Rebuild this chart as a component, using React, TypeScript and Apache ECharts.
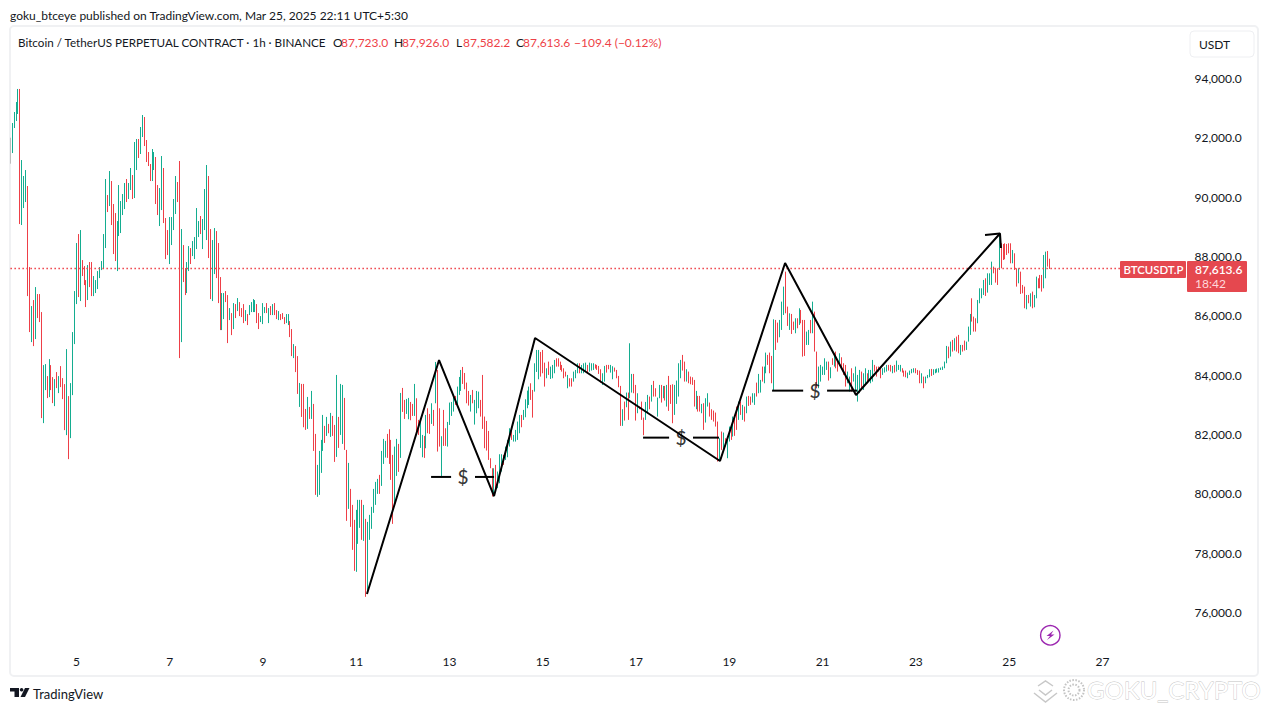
import React, { useEffect, useRef } from "react";
import * as echarts from "echarts";

const FONT = "Lato";
const INK = "#131722";
const TEAL = "#14ad90";
const RED = "#ee3f47";
const GRAY = "#bdbdbd";
const TAG = "#e5484f";

const dayTickLabels = ["5", "7", "9", "11", "13", "15", "17", "19", "21", "23", "25", "27"];
const priceTicks = [76000, 78000, 80000, 82000, 84000, 86000, 88000, 90000, 92000, 94000];
const lastPrice = 87613.6;

const highs = [
  92005,92500,92871,93208,93647,93647,91252,90713,90915,90376,
  87644,86329,86532,86970,86734,86734,86127,84340,84374,83969,
  84542,84340,83935,83868,84104,83969,84306,83901,83699,84879,
  83294,83733,85453,86835,88454,88757,88892,87880,87678,87206,
  87712,87813,87813,87341,87206,87509,87644,87847,88757,90612,
  90072,90881,90544,89769,89465,89195,90409,89870,90106,90477,
  90612,90477,90983,90747,91859,91961,91961,92365,92770,92702,
  91927,91522,91118,91623,91522,91354,90409,90308,91387,90983,
  89297,88892,89330,89330,89937,90713,90511,91219,88926,88386,
  87611,87813,88352,88285,88521,88656,89634,89195,89364,89263,
  90275,91084,90713,88926,88555,88959,88858,88454,87307,86768,
  86768,86835,86700,86262,86093,86430,86397,86599,86464,86262,
  86397,86194,86060,86363,86464,86565,86532,86397,86093,85992,
  86430,86296,86430,86262,86329,86397,86430,86194,86161,86060,
  86093,85958,86060,86060,85823,85554,85048,84980,84643,83738,
  83705,83705,82862,83267,82930,83469,83031,82020,80976,81447,
  81818,82660,82290,82593,82357,82728,82627,82323,84008,82593,
  83705,83671,83233,81481,81043,80167,79628,79123,79460,79797,
  79797,79797,79628,79156,79055,79291,79561,80167,80403,80504,
  80639,81447,81852,81784,82020,82177,81818,81313,81593,81852,
  81683,83401,83570,83166,83199,83233,83098,83031,83705,83222,
  82492,82492,81986,81953,82660,82885,82694,83053,82829,84446,
  84176,82885,81942,82829,82211,82424,83076,83098,83255,83300,
  83615,83940,84176,84277,84075,83750,83469,83334,83502,83166,
  83469,83446,83166,84008,82604,82458,82121,81200,80863,80863,
  80976,80751,81335,81335,81313,81593,81818,82211,82155,81986,
  82155,82436,82660,82660,82829,83188,83480,83615,83727,83502,
  84401,84850,84850,84783,84850,84423,84232,84457,84289,84345,
  84513,84569,84569,84457,84345,84232,84120,84008,83896,83896,
  84120,84176,84401,84401,84345,84401,84423,84345,84423,84402,
  84402,84368,84346,84312,84200,84065,84312,84346,84346,84346,
  84301,84256,84177,83975,83638,82852,83110,83414,83414,85076,
  84042,84042,83672,83391,82942,83110,82571,83099,83335,83279,
  83672,83807,83560,83245,83672,83672,83638,83638,83672,83975,
  83672,83694,83672,83818,84402,84514,84683,84458,84200,84121,
  83953,83930,83840,83470,83301,83301,83032,83054,83223,83391,
  83077,82852,82807,82740,82437,81875,82100,82066,81875,81909,
  82268,82268,82605,82549,82942,83110,83110,82998,82942,83279,
  83301,83279,83391,83391,83750,84042,83840,84290,84290,84761,
  84683,84761,84649,85884,85862,85772,85862,86479,86985,87490,
  86311,86086,86064,85806,85918,85918,86255,86199,85862,85862,
  85469,85525,85862,86479,86142,84795,84290,84346,84290,84570,
  84458,84458,84267,84570,84739,84795,84514,84739,84604,84402,
  84346,84121,83953,84233,84065,84290,84009,84177,84121,84065,
  84233,84065,84177,84177,84514,84346,84290,84290,84233,84233,
  84267,84346,84346,84346,84312,84346,84492,84346,84346,84234,
  84155,84155,84088,84155,84211,84234,84234,84177,84155,84065,
  83953,83953,84009,84200,84211,84200,84200,84222,84234,84256,
  84290,84458,84986,84964,85132,85188,85244,85301,85357,85020,
  85020,85166,85132,85637,86064,86592,85974,85918,86536,86929,
  86929,87210,87266,87434,87434,87827,87659,87603,87603,88759,
  88445,88422,88445,88422,88445,88445,88220,88108,87603,87603,
  87490,87041,86985,86704,86704,86760,86817,86704,87322,87266,
  87378,87378,88052,88164,88187,87926,
];

const lows = [
  91129,91488,92331,92567,92804,89094,89061,89634,89836,86666,
  85453,85115,84980,85217,85925,85790,82553,82384,83497,83227,
  83261,83497,83058,82957,83564,83396,83598,83193,82148,81979,
  81170,81878,83328,85048,86397,86633,86498,87341,87037,86296,
  86532,86970,86666,86666,86768,86903,87273,87543,87577,88285,
  89499,89701,89061,88083,87847,87509,88690,88791,89398,89600,
  89836,89937,90241,89937,89971,90915,91320,91455,92028,91724,
  91185,91050,90544,90544,90915,89769,89398,89027,89566,89128,
  87914,88049,87746,88386,88892,89432,89836,84576,85115,87139,
  86700,86768,87509,87746,88015,87914,88251,88656,88757,88251,
  88892,88555,87948,86565,86498,87408,87273,86430,85520,85520,
  85891,86464,85082,85857,85351,85554,85925,86161,85992,85958,
  85756,85823,85689,86026,86127,86127,86127,85756,85554,85790,
  85722,86093,86093,85756,86026,86026,86026,85891,85857,85857,
  85891,85722,85756,85689,85284,84643,84576,84104,83368,82930,
  82593,82245,82155,82189,82525,82525,81447,79965,79898,79965,
  80706,81447,81717,81953,82043,81919,81953,81077,81245,81548,
  81986,81683,81481,79089,79493,78887,78112,77405,77371,78314,
  78853,78449,78415,76529,76731,78449,78820,79359,79628,79999,
  79999,80268,81009,81223,81212,81009,80470,78988,79628,80605,
  80740,81212,82761,82525,82694,82514,82481,82627,82627,82088,
  81986,81548,81234,81212,81537,82043,82020,82357,82290,83053,
  81425,81593,80560,81616,81616,81593,82323,82627,82773,82997,
  82997,83334,83469,83705,83525,83053,82975,82773,83053,82335,
  82716,82885,82604,82189,81537,81459,81144,80863,79909,79909,
  80133,80190,80358,80751,80976,81144,81234,81593,81818,81762,
  81762,81818,82043,82245,82492,82582,82885,82997,83166,82570,
  83446,84109,83862,83952,84064,83615,83896,84008,83873,83896,
  84064,84289,84289,84176,84120,83896,83952,83559,83615,83615,
  83783,83896,84064,84064,84064,84064,84120,84064,84120,84155,
  84177,84222,84177,84042,83750,83672,83784,84087,84200,84087,
  83863,84121,83896,83593,82291,82291,82470,82919,82493,83223,
  83414,83391,82470,82717,82852,82493,81976,82493,82717,82852,
  83110,83279,83279,82605,83223,83077,83223,83144,82942,82796,
  83032,82380,82661,83032,83279,83896,84155,83784,83784,83728,
  83694,83672,82942,82852,82773,82773,82717,82156,82403,82942,
  82605,82493,82437,82268,81089,81145,81482,81482,81594,81201,
  81763,81819,81931,81954,82156,82493,82661,82493,82437,82717,
  82964,82998,83077,82998,83279,83391,83414,83784,83728,84065,
  84346,84065,83728,83503,84851,85098,85278,85525,86030,86086,
  85660,85525,85390,85525,85413,85581,85693,85749,84626,84649,
  85019,85019,85413,85413,84795,83560,83560,83784,84009,84009,
  84177,83818,83896,84346,84290,84233,84121,84346,84233,84009,
  83616,83728,83447,83447,83784,83447,83110,83391,83560,83503,
  83672,83728,83784,83728,83784,84121,83953,84121,83896,84009,
  84087,84121,84155,84121,84065,84088,84121,84177,84121,84088,
  83953,83930,83897,84009,84065,84088,84065,84009,83728,83728,
  83560,83728,83897,83930,83975,84009,84065,84088,84088,84177,
  84177,84234,84402,84571,84627,84795,84829,84795,84739,84683,
  84795,84829,84851,85132,85357,85806,85469,85469,85750,86424,
  86592,86704,86671,86783,87041,87041,87434,87120,87041,87546,
  87603,87883,87906,88052,88108,87771,87771,87546,86985,87097,
  86738,86760,86255,86221,86424,86311,86255,86289,86592,86929,
  86929,86817,86929,87266,87659,87582,
];

// one letter per hourly bar: u = up, d = down, g = the gray first bar
const directions = [
  "guuuuduuud","dududdduud","uddududddu","duuuududdd","udduuuuuuu",
  "duddduuuuu","duuduuduud","ddduudduud","dduuuuddud","duuduuuudu",
  "uudduudddu","uddudududd","duduuuuddu","uudududdud","dduudduddu",
  "dddududduu","uudududdud","uudduddduu","ududuuuuuu","duuudddduu",
  "dudduuddud","duududdudu","ddudduuuud","uuuddddudu","uudddddddu",
  "duuuduuudu","uuuduuuudd","uuuddduduu","uddddddudd","uuuduuuduu",
  "udddduuddu","uddddududu","udduddduud","udduududud","dduuuuddud",
  "dddudduduu","dddddududu","ududdududu","dduuduuduu","dddudduuud",
  "duddududdd","uududduuuu","udududdudd","duuduuuudu","uduuuddddu",
  "uudduduuud","dduuuudddu","duuuduuuuu","uuudududdu","dduuuddduu",
  "uuduuudddu","dddddduddu","dddududuud","dduudd",
].join("");

// hand-drawn overlays: [bar position, price]
const zigzag = [
  [183.5, 76624], [220.6, 84511], [248.9, 79927], [270, 85253],
  [365.2, 81107], [398.7, 87781], [435.2, 83332], [509.3, 88777],
];
const arrowHead = [[501.6, 88726], [509.3, 88777], [509.8, 88288]];
const dollarSegments = [
  [216.5, 226.8, 80570], [239.1, 248.9, 80570],
  [325.6, 339, 81895], [351.3, 364.7, 81895],
  [392, 408, 83479], [420.3, 435.7, 83479],
];
const dollarLabels = [[232.9, 80570], [345.1, 81895], [414.1, 83479]];

const barCount = 643;
const firstDayBar = 34;
const barsPerTick = 48;
const priceLineEndBar = 571;

const categories = Array.from({ length: barCount }, (_, i) => {
  const k = (i - firstDayBar) / barsPerTick;
  return Number.isInteger(k) && k >= 0 && k < dayTickLabels.length ? dayTickLabels[k] : "";
});

const candleData = highs.map((h, i) => {
  const d = directions[i];
  const l = lows[i];
  const value = d === "u" ? [l, h, l, h] : [h, l, l, h];
  return d === "g"
    ? { value, itemStyle: { color: GRAY, color0: GRAY, borderColor: GRAY, borderColor0: GRAY } }
    : { value };
});

function text(t: string, x: number, y: number, style: any = {}) {
  return {
    type: "text",
    x,
    y,
    z: 20,
    silent: true,
    style: {
      text: t,
      fill: INK,
      font: `12px ${FONT}`,
      textVerticalAlign: "middle",
      verticalAlign: "middle",
      ...style,
    },
  };
}

function overlayLine(data: number[][], name: string) {
  return {
    type: "line",
    name,
    xAxisIndex: 1,
    yAxisIndex: 0,
    data,
    symbol: "none",
    silent: true,
    z: 6,
    lineStyle: { color: "#000000", width: 2 },
  };
}

function buildOption(): any {
  return {
    animation: false,
    backgroundColor: "#ffffff",
    textStyle: { fontFamily: FONT },
    grid: { left: 9.45, top: 26, width: 1249.35, height: 650 },
    xAxis: [
      {
        type: "category",
        data: categories,
        boundaryGap: true,
        axisLine: { show: false },
        axisTick: { show: false },
        splitLine: { show: false },
        axisLabel: {
          show: true,
          inside: true,
          margin: 9,
          color: INK,
          fontSize: 12,
          fontFamily: FONT,
          interval: (i: number) => (i - firstDayBar) % barsPerTick === 0 && i >= firstDayBar && categories[i] !== "",
        },
      },
      { type: "value", show: false, min: -0.5, max: barCount - 0.5, splitLine: { show: false } },
    ],
    yAxis: {
      type: "value",
      position: "right",
      min: 73860,
      max: 95770,
      axisLine: { show: false },
      axisTick: { show: false },
      splitLine: { show: false },
      axisLabel: {
        inside: true,
        margin: 17,
        color: INK,
        fontSize: 12,
        fontFamily: FONT,
        customValues: priceTicks,
        formatter: (v: number) => `${Math.floor(v / 1000)},${String(v % 1000).padStart(3, "0")}.0`,
      },
    },
    series: [
      {
        type: "candlestick",
        name: "BTCUSDT.P",
        xAxisIndex: 0,
        yAxisIndex: 0,
        data: candleData,
        barWidth: 1,
        large: false,
        silent: true,
        itemStyle: { color: TEAL, color0: RED, borderColor: TEAL, borderColor0: RED, borderWidth: 1 },
        markLine: {
          silent: true,
          symbol: "none",
          label: { show: false },
          lineStyle: { color: RED, type: [1.5, 2.5], width: 1.4, opacity: 1 },
          data: [[{ coord: [0, lastPrice] }, { coord: [priceLineEndBar, lastPrice] }]],
        },
      },
      overlayLine(zigzag, "zigzag"),
      overlayLine(arrowHead, "arrow"),
      ...dollarSegments.map((s, i) =>
        overlayLine([[s[0], s[2]], [s[1], s[2]]], `level${i}`)
      ),
      {
        type: "scatter",
        xAxisIndex: 1,
        yAxisIndex: 0,
        data: dollarLabels,
        symbolSize: 1,
        itemStyle: { color: "rgba(0,0,0,0)" },
        silent: true,
        z: 7,
        label: {
          show: true,
          position: "inside",
          formatter: "$",
          color: "#000000",
          fontSize: 19,
          fontWeight: 500,
          fontFamily: FONT,
        },
      },
    ],
    graphic: [
      { type: "rect", z: 1, silent: true, shape: { x: 10, y: 26, width: 1248, height: 650, r: 4 }, style: { fill: "none", stroke: "#f0f1f3", lineWidth: 2 } },
      text("goku_btceye published on TradingView.com, Mar 25, 2025 22:11 UTC+5:30", 10, 15),
      text("Bitcoin / TetherUS PERPETUAL CONTRACT · 1h · BINANCE", 18, 42, { font: `11.65px ${FONT}` }),
      text("O", 333, 42),
      text("87,723.0", 341, 42, { fill: RED }),
      text("H", 394, 42),
      text("87,926.0", 402, 42, { fill: RED }),
      text("L", 456, 42),
      text("87,582.2", 463, 42, { fill: RED }),
      text("C", 516, 42),
      text("87,613.6", 523, 42, { fill: RED }),
      text("−109.4 (−0.12%)", 574, 42, { fill: RED }),
      // USDT button
      { type: "rect", z: 20, silent: true, shape: { x: 1190, y: 31, width: 64, height: 26, r: 4 }, style: { fill: "#ffffff", stroke: "#eeeff2", lineWidth: 1 } },
      text("USDT", 1199, 44.5),
      // last price tags
      { type: "rect", z: 20, silent: true, shape: { x: 1120, y: 261, width: 66, height: 17, r: 1 }, style: { fill: TAG } },
      text("BTCUSDT.P", 1123.5, 269.5, { fill: "#ffffff", font: `600 11.4px ${FONT}` }),
      { type: "rect", z: 20, silent: true, shape: { x: 1187, y: 261, width: 60, height: 31, r: 1 }, style: { fill: TAG } },
      text("87,613.6", 1195, 269, { fill: "#ffffff", font: `600 12px ${FONT}` }),
      text("18:42", 1195, 283, { fill: "#ffd9db", font: `12px ${FONT}` }),
      // lightning badge
      { type: "circle", z: 20, silent: true, shape: { cx: 1050.3, cy: 635.3, r: 9.7 }, style: { fill: "#ffffff", stroke: "#9c27b0", lineWidth: 1.4 } },
      { type: "polygon", z: 21, silent: true, shape: { points: [[1053.5, 630.5], [1046.5, 636], [1050, 636], [1047, 640], [1054.5, 634.6], [1051, 634.6]] }, style: { fill: "#9c27b0" } },
      // TradingView mark
      { type: "polygon", z: 20, silent: true, shape: { points: [[10, 688], [19, 688], [19, 697], [14.5, 697], [14.5, 691.5], [10, 691.5]] }, style: { fill: INK } },
      { type: "circle", z: 20, silent: true, shape: { cx: 21.6, cy: 689.8, r: 1.8 }, style: { fill: INK } },
      { type: "polygon", z: 20, silent: true, shape: { points: [[25, 688], [29.5, 688], [25, 697], [20.5, 697]] }, style: { fill: INK } },
      text("TradingView", 33, 693.5, { font: `13px ${FONT}` }),
      // watermark
      { type: "polyline", z: 20, silent: true, shape: { points: [[1038, 686], [1045.5, 681], [1053, 686]] }, style: { fill: "none", stroke: "#c8c8c8", lineWidth: 1.5 } },
      { type: "polyline", z: 20, silent: true, shape: { points: [[1039, 690], [1045.5, 695], [1052, 690]] }, style: { fill: "none", stroke: "#c8c8c8", lineWidth: 1.5 } },
      { type: "polyline", z: 20, silent: true, shape: { points: [[1034, 693], [1045.5, 702], [1057, 693]] }, style: { fill: "none", stroke: "#c8c8c8", lineWidth: 1.5 } },
      { type: "circle", z: 20, silent: true, shape: { cx: 1074, cy: 690, r: 10 }, style: { fill: "none", stroke: "#c4c4c4", lineWidth: 2, lineDash: [1.5, 1.5] } },
      { type: "circle", z: 20, silent: true, shape: { cx: 1074, cy: 690, r: 5.5 }, style: { fill: "none", stroke: "#c4c4c4", lineWidth: 2, lineDash: [1.5, 1.5] } },
      text("GOKU_CRYPTO", 1087, 689.5, { fill: "#ffffff", stroke: "#c4c4c4", lineWidth: 0.8, font: `24px ${FONT}` }),
    ],
  };
}

export default function App() {
  const ref = useRef<HTMLDivElement>(null);
  useEffect(() => {
    if (!ref.current) return;
    const chart = echarts.init(ref.current, undefined, { renderer: "svg" });
    chart.setOption(buildOption());
    return () => chart.dispose();
  }, []);
  return (
    <div
      ref={ref}
      style={{ position: "fixed", left: 0, top: 0, width: 1268, height: 711, background: "#ffffff" }}
    />
  );
}
